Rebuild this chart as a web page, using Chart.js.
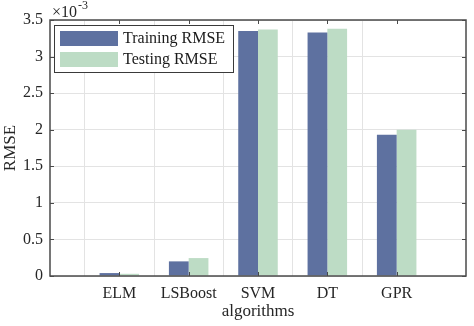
<!DOCTYPE html>
<html>
<head>
<meta charset="utf-8">
<script src="https://cdn.jsdelivr.net/npm/chart.js@4.4.1/dist/chart.umd.min.js"></script>
<style>
  html, body { margin: 0; padding: 0; background: #fff; }
  #wrap { width: 474px; height: 326px; }
</style>
</head>
<body>
<div id="wrap"><canvas id="myChart" width="474" height="326"></canvas></div>
<script>
// algorithms on the x axis, padded with empty slots at both ends
const algorithms = ['', 'ELM', 'LSBoost', 'SVM', 'DT', 'GPR', ''];
const trainingRmse = [null, 0.00004, 0.00020, 0.00335, 0.00333, 0.00193, null];
const testingRmse = [null, 0.00003, 0.000245, 0.00337, 0.00338, 0.00200, null];
const yTicks = [0, 0.0005, 0.001, 0.0015, 0.002, 0.0025, 0.003, 0.0035];

const serif = '"Liberation Serif", "Times New Roman", serif';
const axisColor = '#4a4a4a';

// axes box, inward ticks, legend and the exponent label
const matlabAxes = {
  id: 'matlabAxes',
  afterDraw(chart) {
    const ctx = chart.ctx;
    const a = chart.chartArea;
    const xs = chart.scales.x;
    const ys = chart.scales.y;
    ctx.save();

    ctx.strokeStyle = axisColor;
    ctx.lineWidth = 1.5;
    ctx.strokeRect(a.left, a.top, a.right - a.left, a.bottom - a.top);

    ctx.lineWidth = 1;
    ctx.beginPath();
    for (let i = 1; i < algorithms.length - 1; i++) {
      const px = Math.round(xs.getPixelForValue(i)) + 0.5;
      ctx.moveTo(px, a.bottom); ctx.lineTo(px, a.bottom - 4);
      ctx.moveTo(px, a.top); ctx.lineTo(px, a.top + 4);
    }
    yTicks.forEach(v => {
      const py = Math.round(ys.getPixelForValue(v)) + 0.5;
      ctx.moveTo(a.left, py); ctx.lineTo(a.left + 4, py);
      ctx.moveTo(a.right, py); ctx.lineTo(a.right - 4, py);
    });
    ctx.stroke();

    // exponent above the y axis
    ctx.fillStyle = '#262626';
    ctx.textBaseline = 'alphabetic';
    ctx.textAlign = 'left';
    ctx.font = '16px ' + serif;
    ctx.fillText('\u00d710', a.left + 2, 17);
    const w = ctx.measureText('\u00d710').width;
    ctx.font = '12px ' + serif;
    ctx.fillText('-3', a.left + 3 + w, 9);

    // legend in the upper left corner
    const lx = 54, ly = 25, lw = 179, lh = 47;
    ctx.fillStyle = '#fff';
    ctx.fillRect(lx, ly, lw, lh);
    ctx.strokeStyle = '#3a3a3a';
    ctx.lineWidth = 1;
    ctx.strokeRect(lx + 0.5, ly + 0.5, lw, lh);
    ctx.font = '16px ' + serif;
    ctx.textBaseline = 'middle';
    chart.data.datasets.forEach((ds, i) => {
      const rowY = ly + 6 + i * 21;
      ctx.fillStyle = ds.backgroundColor;
      ctx.fillRect(lx + 6, rowY, 58, 15);
      ctx.fillStyle = '#1a1a1a';
      ctx.fillText(ds.label, lx + 69, rowY + 8);
    });

    ctx.restore();
  }
};

new Chart(document.getElementById('myChart'), {
  type: 'bar',
  data: {
    labels: algorithms,
    datasets: [
      {
        label: 'Training RMSE',
        data: trainingRmse,
        backgroundColor: '#5e71a0',
        categoryPercentage: 0.57,
        barPercentage: 1.0
      },
      {
        label: 'Testing RMSE',
        data: testingRmse,
        backgroundColor: '#bddcc5',
        categoryPercentage: 0.57,
        barPercentage: 1.0
      }
    ]
  },
  options: {
    responsive: false,
    animation: false,
    layout: { padding: { top: 20, right: 2, left: 0, bottom: 0 } },
    plugins: {
      legend: { display: false },
      tooltip: { enabled: false }
    },
    scales: {
      x: {
        offset: false,
        grid: {
          color: ctx => (ctx.index === 0 || ctx.index === algorithms.length - 1) ? 'rgba(0,0,0,0)' : '#e3e3e3',
          drawTicks: false
        },
        border: { display: false },
        ticks: {
          color: '#262626',
          font: { family: serif, size: 16 },
          padding: 8,
          maxRotation: 0,
          autoSkip: false
        },
        title: {
          display: true,
          text: 'algorithms',
          color: '#262626',
          font: { family: serif, size: 17 },
          padding: { top: 0, bottom: 4 }
        },
        afterFit: s => { s.height = 50; }
      },
      y: {
        min: 0,
        max: 0.0035,
        afterBuildTicks: s => { s.ticks = yTicks.map(v => ({ value: v })); },
        grid: { color: '#e3e3e3', drawTicks: false },
        border: { display: false },
        ticks: {
          color: '#262626',
          font: { family: serif, size: 16 },
          padding: 7,
          callback: v => String(Number((v * 1000).toFixed(1)))
        },
        title: {
          display: true,
          text: 'RMSE',
          color: '#262626',
          font: { family: serif, size: 17 },
          padding: { top: 0, bottom: 0 }
        },
        afterFit: s => { s.width = 50; }
      }
    }
  },
  plugins: [matlabAxes]
});
</script>
</body>
</html>
